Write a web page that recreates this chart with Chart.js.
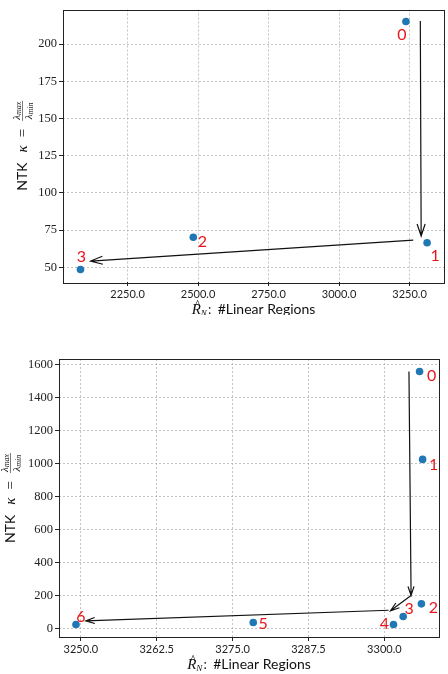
<!DOCTYPE html>
<html lang="en">
<head>
<meta charset="UTF-8">
<meta name="viewport" content="width=device-width, initial-scale=1.0">
<title>NTK condition number vs linear regions</title>
<script src="https://cdn.jsdelivr.net/npm/chart.js"></script>
<style>
  body { margin: 0; background: #fff; }
  #wrap { position: relative; width: 448px; height: 674px; overflow: hidden; }
  .box { position: absolute; left: 0; width: 448px; }
</style>
</head>
<body>
<div id="wrap">
  <div class="box" style="top:0;height:315px"><canvas id="topChart"></canvas></div>
  <div class="box" style="top:340px;height:334px"><canvas id="bottomChart"></canvas></div>
</div>
<script>
// ---- top panel ----
var topIds = ['0', '1', '2', '3'];
var topRegions = [3237, 3312, 2483, 2083];
var topKappa = [215.2, 66.5, 70.2, 48.5];
var topXTicks = [2250, 2500, 2750, 3000, 3250];
var topYTicks = [50, 75, 100, 125, 150, 175, 200];
// arrows (from -> to), in data units
var topArrowFromX = [3288, 3263];
var topArrowFromY = [215.5, 68.2];
var topArrowToX = [3291, 2119];
var topArrowToY = [71, 54.2];

// ---- bottom panel ----
var botIds = ['0', '1', '2', '3', '4', '5', '6'];
var botRegions = [3305.8, 3306.3, 3306.1, 3303.1, 3301.5, 3278.4, 3249.2];
var botKappa = [1559, 1026, 151, 74, 26, 38, 26];
var botXTicks = [3250, 3262.5, 3275, 3287.5, 3300];
var botYTicks = [0, 200, 400, 600, 800, 1000, 1200, 1400, 1600];
var botArrowFromX = [3304.05, 3304.4, 3300.7];
var botArrowFromY = [1559, 202, 112];
var botArrowToX = [3304.4, 3301.0, 3250.8];
var botArrowToY = [202, 109, 48];

// label offsets in px (dx, dy) for the red step numbers
var topLabelDx = [-4, 8, 9, 1];
var topLabelDy = [13, 13, 5, -13];
var botLabelDx = [12, 11, 12, 6, -9, 10, 5];
var botLabelDy = [4, 5, 4, -8, -1, 1, -8];

var SERIF = '"Liberation Serif", "DejaVu Serif", serif';
var SANS = 'Lato, "DejaVu Sans", sans-serif';

function arrowsPlugin(fx, fy, tx, ty, head, half) {
  return {
    id: 'arrows',
    afterDatasetsDraw: function (chart) {
      var ctx = chart.ctx, xs = chart.scales.x, ys = chart.scales.y;
      ctx.save();
      ctx.strokeStyle = '#111';
      ctx.lineWidth = 1.2;
      for (var i = 0; i < fx.length; i++) {
        var x0 = xs.getPixelForValue(fx[i]), y0 = ys.getPixelForValue(fy[i]);
        var x1 = xs.getPixelForValue(tx[i]), y1 = ys.getPixelForValue(ty[i]);
        var a = Math.atan2(y1 - y0, x1 - x0);
        var c = Math.cos(a), s = Math.sin(a);
        ctx.beginPath();
        ctx.moveTo(x0, y0);
        ctx.lineTo(x1, y1);
        ctx.moveTo(x1 - head * c + half * s, y1 - head * s - half * c);
        ctx.lineTo(x1, y1);
        ctx.lineTo(x1 - head * c - half * s, y1 - head * s + half * c);
        ctx.stroke();
      }
      ctx.restore();
    }
  };
}

function labelsPlugin(ids, xv, yv, dx, dy) {
  return {
    id: 'stepLabels',
    afterDatasetsDraw: function (chart) {
      var ctx = chart.ctx, xs = chart.scales.x, ys = chart.scales.y;
      ctx.save();
      ctx.fillStyle = '#e8161b';
      ctx.font = '16px ' + SANS;
      ctx.textAlign = 'center';
      ctx.textBaseline = 'middle';
      for (var i = 0; i < ids.length; i++) {
        ctx.fillText(ids[i], xs.getPixelForValue(xv[i]) + dx[i], ys.getPixelForValue(yv[i]) + dy[i]);
      }
      ctx.restore();
    }
  };
}

// frame + axis titles
function decorPlugin(yTitleX, xTitleY) {
  return {
    id: 'decor',
    afterDraw: function (chart) {
      var ctx = chart.ctx, a = chart.chartArea;
      ctx.save();
      ctx.strokeStyle = '#222';
      ctx.lineWidth = 1;
      ctx.strokeRect(Math.round(a.left) + 0.5, Math.round(a.top) + 0.5,
        Math.round(a.right - a.left), Math.round(a.bottom - a.top));

      // y title: NTK kappa = lambda_max / lambda_min
      ctx.fillStyle = '#111';
      ctx.translate(yTitleX, (a.top + a.bottom) / 2);
      ctx.rotate(-Math.PI / 2);
      ctx.textBaseline = 'alphabetic';
      ctx.textAlign = 'left';
      var fSans = '14px ' + SANS, fIt = 'italic 15px ' + SERIF, fSer = '15px ' + SERIF;
      var fLam = 'italic 11px ' + SERIF, fSub = 'italic 8px ' + SERIF;
      ctx.font = fSans; var w1 = ctx.measureText('NTK').width;
      ctx.font = fIt; var w2 = ctx.measureText('\u03ba').width;
      ctx.font = fSer; var w3 = ctx.measureText('=').width;
      ctx.font = fLam; var wl = ctx.measureText('\u03bb').width;
      ctx.font = fSub; var wmax = ctx.measureText('max').width, wmin = ctx.measureText('min').width;
      var wf = wl + Math.max(wmax, wmin) + 2;
      var total = w1 + 10 + w2 + 8 + w3 + 8 + wf;
      var x = -total / 2;
      ctx.font = fSans; ctx.fillText('NTK', x, 0); x += w1 + 10;
      ctx.font = fIt; ctx.fillText('\u03ba', x, 0); x += w2 + 8;
      ctx.font = fSer; ctx.fillText('=', x, 0); x += w3 + 8;
      ctx.beginPath();
      ctx.lineWidth = 0.6;
      ctx.moveTo(x, -4.5); ctx.lineTo(x + wf, -4.5); ctx.stroke();
      var nx = x + (wf - wl - wmax) / 2;
      ctx.font = fLam; ctx.fillText('\u03bb', nx, -7.5);
      ctx.font = fSub; ctx.fillText('max', nx + wl, -6);
      var dxm = x + (wf - wl - wmin) / 2;
      ctx.font = fLam; ctx.fillText('\u03bb', dxm, 4.5);
      ctx.font = fSub; ctx.fillText('min', dxm + wl, 6);
      ctx.restore();

      // x title: R^_N: #Linear Regions
      ctx.save();
      ctx.fillStyle = '#111';
      ctx.textBaseline = 'alphabetic';
      ctx.textAlign = 'left';
      var fR = 'italic 15px ' + SERIF, fN = 'italic 9px ' + SERIF, fC = '14px ' + SERIF, fT = '14px ' + SANS;
      ctx.font = fR; var wr = ctx.measureText('R').width;
      ctx.font = fN; var wn = ctx.measureText('N').width;
      ctx.font = fC; var wc = ctx.measureText(':').width;
      ctx.font = fT; var wt = ctx.measureText('#Linear Regions').width;
      var tot = wr + wn + 1 + wc + 6 + wt;
      var x2 = (a.left + a.right) / 2 - tot / 2;
      ctx.font = fR; ctx.fillText('R', x2, xTitleY);
      ctx.font = '12px ' + SERIF; ctx.fillText('^', x2 + 3, xTitleY - 6);
      x2 += wr;
      ctx.font = fN; ctx.fillText('N', x2, xTitleY + 2); x2 += wn + 1;
      ctx.font = fC; ctx.fillText(':', x2, xTitleY); x2 += wc + 6;
      ctx.font = fT; ctx.fillText('#Linear Regions', x2, xTitleY);
      ctx.restore();
    }
  };
}

function makeScales(xmin, xmax, xticks, xdec, ymin, ymax, yticks, yWidth, xHeight) {
  return {
    x: {
      type: 'linear', min: xmin, max: xmax,
      afterBuildTicks: function (s) { s.ticks = xticks.map(function (v) { return { value: v }; }); },
      afterFit: function (s) { s.height = xHeight; },
      ticks: {
        autoSkip: false, maxRotation: 0, padding: 2, color: '#222',
        font: { family: SANS, size: 11 },
        callback: function (v) { return Number(v).toFixed(xdec); }
      },
      grid: { color: '#b5b5b5', lineWidth: 0.8, tickLength: 4, tickColor: '#222', tickWidth: 1, tickBorderDash: [] },
      border: { display: false, dash: [2, 2] }
    },
    y: {
      type: 'linear', min: ymin, max: ymax,
      afterBuildTicks: function (s) { s.ticks = yticks.map(function (v) { return { value: v }; }); },
      afterFit: function (s) { s.width = yWidth; },
      ticks: {
        autoSkip: false, padding: 2, color: '#222',
        font: { family: SERIF, size: 12.5 },
        callback: function (v) { return String(v); }
      },
      grid: { color: '#b5b5b5', lineWidth: 0.8, tickLength: 4, tickColor: '#222', tickWidth: 1, tickBorderDash: [] },
      border: { display: false, dash: [2, 2] }
    }
  };
}

function pts(xs, ys) {
  return xs.map(function (x, i) { return { x: x, y: ys[i] }; });
}

var common = {
  responsive: true,
  maintainAspectRatio: false,
  animation: false,
  plugins: { legend: { display: false }, tooltip: { enabled: false } }
};

new Chart(document.getElementById('topChart'), {
  type: 'scatter',
  data: {
    datasets: [{
      data: pts(topRegions, topKappa),
      backgroundColor: '#1f77b4', borderWidth: 0, pointRadius: 3.8
    }]
  },
  options: Object.assign({}, common, {
    layout: { padding: { top: 4, right: 4, left: 0, bottom: 0 } },
    scales: makeScales(2021, 3372, topXTicks, 1, 40.1, 223.3, topYTicks, 63, 33)
  }),
  plugins: [
    arrowsPlugin(topArrowFromX, topArrowFromY, topArrowToX, topArrowToY, 12, 4),
    labelsPlugin(topIds, topRegions, topKappa, topLabelDx, topLabelDy),
    decorPlugin(27, 314)
  ]
});

new Chart(document.getElementById('bottomChart'), {
  type: 'scatter',
  data: {
    datasets: [{
      data: pts(botRegions, botKappa),
      backgroundColor: '#1f77b4', borderWidth: 0, pointRadius: 3.8
    }]
  },
  options: Object.assign({}, common, {
    layout: { padding: { top: 19, right: 9, left: 0, bottom: 0 } },
    scales: makeScales(3246.4, 3309, botXTicks, 1, -50, 1634.5, botYTicks, 59, 37)
  }),
  plugins: [
    arrowsPlugin(botArrowFromX, botArrowFromY, botArrowToX, botArrowToY, 9, 3),
    labelsPlugin(botIds, botRegions, botKappa, botLabelDx, botLabelDy),
    decorPlugin(15, 329)
  ]
});
</script>
</body>
</html>
